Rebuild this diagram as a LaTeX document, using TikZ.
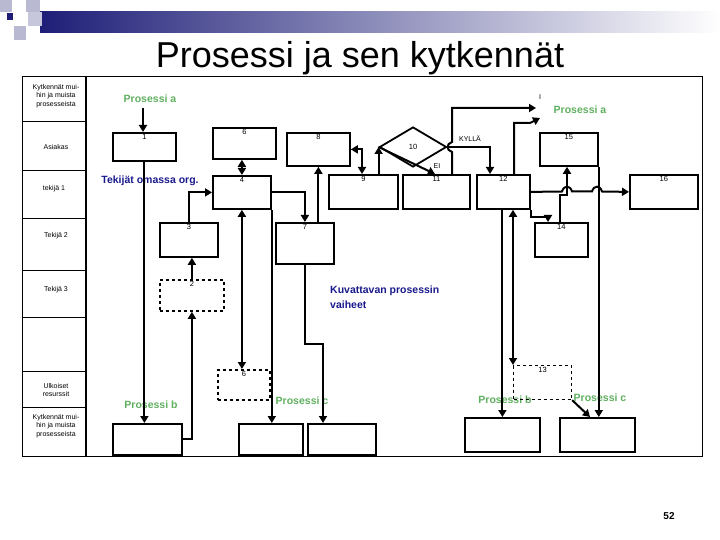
\documentclass[tikz,border=0pt]{standalone}
\usepackage{fontspec}
\setmainfont{Liberation Sans}
\usetikzlibrary{shapes.geometric,arrows.meta}
\definecolor{pgreen}{RGB}{95,175,95}
\definecolor{pblue}{RGB}{25,25,140}
\definecolor{navy}{RGB}{30,30,120}
\definecolor{lsq}{RGB}{185,185,210}
\begin{document}
\begin{tikzpicture}[x=1pt,y=-1pt,
  box/.style={draw,line width=1.8pt,anchor=north west,inner sep=0pt},
  lab/.style={anchor=north,font=\fontsize{7.5}{8}\selectfont,inner sep=2pt},
  arr/.style={line width=2pt,-{Triangle[width=8pt,length=7pt]}},
  dbl/.style={line width=2pt,{Triangle[width=8pt,length=7pt]}-{Triangle[width=8pt,length=7pt]}},
  side/.style={font=\fontsize{7}{8.5}\selectfont,align=center,inner sep=0pt},
  green/.style={text=pgreen,font=\bfseries\fontsize{10.5}{11}\selectfont,inner sep=0pt},
  blue/.style={text=pblue,font=\bfseries\fontsize{10.5}{15}\selectfont,inner sep=0pt},
  sm/.style={font=\fontsize{7}{8}\selectfont,inner sep=0pt}]
\useasboundingbox (0,0) rectangle (720,540);
% header
\shade[left color=navy,right color=white] (40,12) rectangle (720,33);
\fill[lsq] (0,0) rectangle (12,12);
\fill[lsq] (26,0) rectangle (40,12);
\fill[lsq!80] (28,12) rectangle (42,26);
\fill[lsq] (14,26) rectangle (26,40);
\fill[navy] (7,13) rectangle (13,20);
\node[font=\fontsize{36}{40}\selectfont,inner sep=0pt] (title) at (360,58) {Prosessi ja sen kytkennät};
% frame
\draw[line width=1pt] (22.7,77) rectangle (702,456);
\draw[line width=2pt] (86,77) -- (86,456);
\foreach \yy in {122,171,219,270,317,371,407} \draw[line width=1pt] (22.7,\yy) -- (86,\yy);
\node[side] (s1) at (56,96) {Kytkennät mui-\\hin ja muista\\prosesseista};
\node[side] (s2) at (56,147) {Asiakas};
\node[side] (s3) at (54,189) {tekijä 1};
\node[side] (s4) at (56,236) {Tekijä 2};
\node[side] (s5) at (56,290) {Tekijä 3};
\node[side] (s6) at (56,390) {Ulkoiset\\resurssit};
\node[side] (s7) at (56,426) {Kytkennät mui-\\hin ja muista\\prosesseista};
% texts
\node[green] (pa1) at (150,99) {Prosessi a};
\node[green] (pa2) at (580,110) {Prosessi a};
\node[sm] (ii) at (540,97) {I};
\node[blue] (tek) at (150,181) {Tekijät omassa org.};
\node[blue,align=left,anchor=west] (kuv) at (330,297) {Kuvattavan prosessin\\vaiheet};
\node[green] (pb1) at (151,405) {Prosessi b};
\node[green] (pc1l) at (302,401) {Prosessi c};
\node[green] (pb2l) at (505,400) {Prosessi b};
\node[green] (pc2l) at (600,398) {Prosessi c};
\node[sm] (kyl) at (470,139) {KYLLÄ};
\node[sm] (ei) at (437,166) {EI};
\node[font=\bfseries\fontsize{10}{12}\selectfont] (num) at (669,516) {52};
% boxes
\node[box,minimum width=63,minimum height=28,label={[lab]north:1}] (b1) at (112,132) {};
\node[box,minimum width=63,minimum height=31,label={[lab]north:6}] (b6) at (212,127) {};
\node[box,minimum width=63,minimum height=33,label={[lab]north:8}] (b8) at (286,132) {};
\node[box,minimum width=58,minimum height=33,label={[lab]north:4}] (b4) at (212,175) {};
\node[box,minimum width=58,minimum height=34,label={[lab]north:3}] (b3) at (159,222) {};
\node[box,minimum width=58,minimum height=41,label={[lab]north:7}] (b7) at (275,222) {};
\node[box,dashed,minimum width=64,minimum height=31,label={[lab]north:2}] (b2) at (159,279) {};
\node[box,minimum width=69,minimum height=34,label={[lab]north:9}] (b9) at (328,174) {};
\node[box,minimum width=67,minimum height=34,label={[lab]north:11}] (b11) at (402,174) {};
\node[box,minimum width=53,minimum height=34,label={[lab]north:12}] (b12) at (476,174) {};
\node[box,minimum width=58,minimum height=33,label={[lab]north:15}] (b15) at (539,132) {};
\node[box,minimum width=68,minimum height=34,label={[lab]north:16}] (b16) at (629,174) {};
\node[box,minimum width=53,minimum height=34,label={[lab]north:14}] (b14) at (534,222) {};
\node[box,dashed,minimum width=52,minimum height=30,label={[lab]north:6}] (b6l) at (217,369) {};
\node[box,dashed,line width=1.2pt,minimum width=58,minimum height=34,label={[lab]north:13}] (b13) at (513,365) {};
\node[box,minimum width=69,minimum height=31] (pb) at (112,423) {};
\node[box,minimum width=64,minimum height=31] (pc1) at (238,423) {};
\node[box,minimum width=68,minimum height=31] (pc2) at (307,423) {};
\node[box,minimum width=75,minimum height=34] (pb2) at (464,417) {};
\node[box,minimum width=75,minimum height=34] (pc3) at (559,417) {};
\node[draw,diamond,line width=1.8pt,minimum width=67,minimum height=40,inner sep=0pt,font=\fontsize{7.5}{8}\selectfont] (d10) at (413,147) {10};
% connectors
\coordinate (c1) at (143,108);
\draw[arr] (c1) -- (c1 |- b1.north);
\draw[arr] (b1.south) -- (b1.south |- pb.north);
\draw[arr] (b2.north) -- (b2.north |- b3.south);
\draw[arr] (pb.east) -| (b2.south);
\draw[arr] (b3.north) |- (b4.west);
\draw[dbl] (b4.north) -- (b4.north |- b6.south);
\draw[dbl] (b4.south) -- (b4.south |- b6l.north);
\draw[arr] (b4.east) -| (b7.north);
\draw[arr] (b4.south east) -- (b4.south east |- pc1.north);
\draw[arr] (b8.south |- b7.north) -- (b8.south);
\draw[arr] (b7.south) -- ++(0,79) -| ([xshift=16pt]pc2.north west);
\draw[dbl] (b8.east) -| ([xshift=34pt]b9.north west);
\draw[arr] (d10.west |- b9.north) -- (d10.west);
\draw[arr] (d10.west) -- ([xshift=33pt]b11.north west);
\draw[arr] (d10.east) -| ([xshift=14pt]b12.north west);
\coordinate (ti) at (536,108);
\draw[arr] ([xshift=50pt]b11.north west) -- (452,152) .. controls (446,150) and (446,144) .. (452,142) -- (452,108) -- (ti);
\coordinate (ta) at (540,118);
\draw[arr] ([xshift=38pt]b12.north west) -- (514,123) -- (530,123) -- (ta);
\draw[arr] (b12.east) -- (562,191.5) .. controls (564,185) and (570,185) .. (572,191.5) -- (592,191.5) .. controls (594,185) and (600,185) .. (602,191.5) -- (b16.west);
\draw[arr] ([xshift=26pt]b14.north west) -- (560,195) -- (567,195) -- (b15.south -| 567,0);
\draw[arr] (b12.south east) -- ++(0,7) -| ([xshift=14pt]b14.north west);
\draw[arr] (b15.south east) -- (b15.south east |- pc3.north);
\draw[arr] (pb2.north |- b12.south) -- (pb2.north);
\draw[dbl] (b13.north west) -- (b13.north west |- b12.south);
\draw[arr] (b13.south east) -- ([xshift=31pt]pc3.north west);
\end{tikzpicture}
\end{document}
